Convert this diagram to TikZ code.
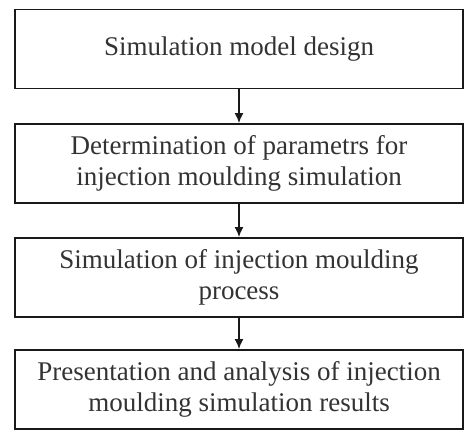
\documentclass[tikz,border=0pt]{standalone}
\usepackage{fontspec}
\setmainfont{Liberation Serif}
\usetikzlibrary{arrows.meta}
\begin{document}
\begin{tikzpicture}[x=1pt,y=-1pt,
  stepbox/.style={draw=black!90, line width=1.8pt, minimum width=448pt, minimum height=79pt,
    inner sep=0pt, align=center, text=black!80, font=\fontsize{27}{31}\selectfont},
  flow/.style={line width=1.6pt, draw=black!90, -{Latex[length=10pt,width=9pt]}}]
\useasboundingbox (0,0) rectangle (474,435);
\node[stepbox] (b1) at (239,49) {Simulation model design};
\node[stepbox] (b2) at (239,163.5) {Determination of parametrs for\\injection moulding simulation};
\node[stepbox] (b3) at (239,277.5) {Simulation of injection moulding\\process};
\node[stepbox] (b4) at (239,389.5) {Presentation and analysis of injection\\moulding simulation results};
\draw[flow] (b1) -- (b2);
\draw[flow] (b2) -- (b3);
\draw[flow] (b3) -- (b4);
\end{tikzpicture}
\end{document}
